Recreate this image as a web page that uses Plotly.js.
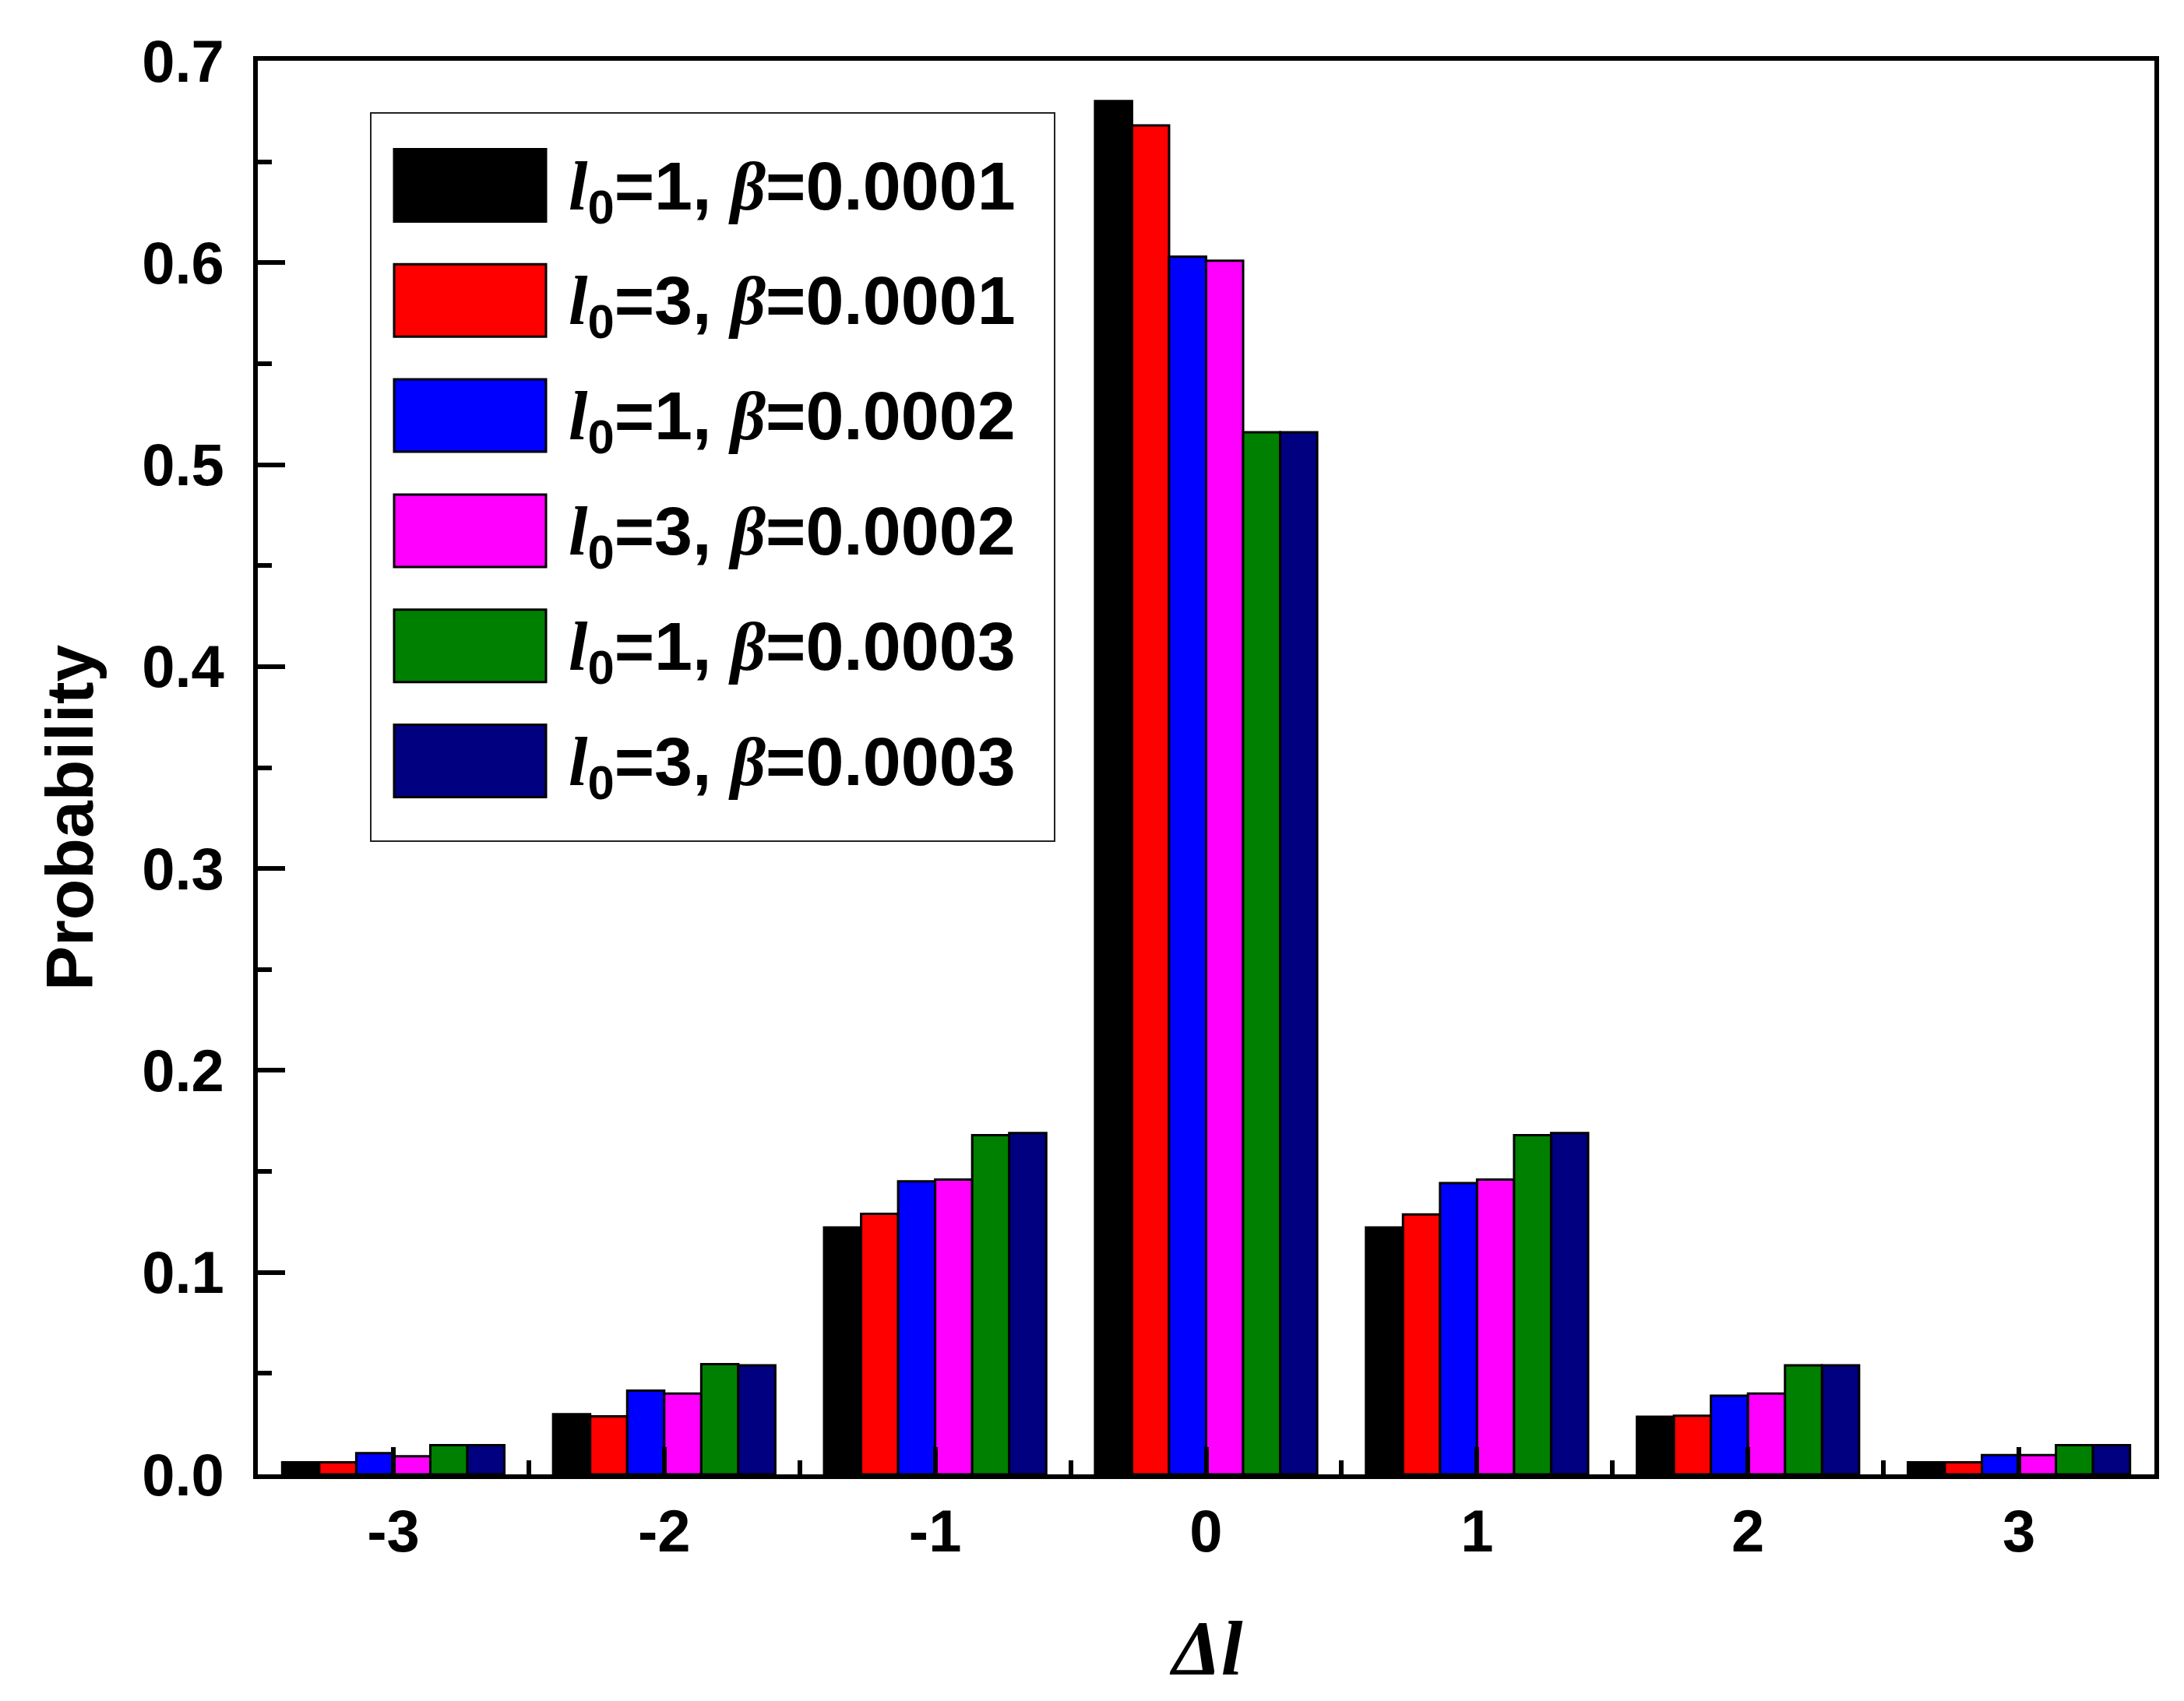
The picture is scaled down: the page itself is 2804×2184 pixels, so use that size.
<!DOCTYPE html>
<html>
<head>
<meta charset="utf-8">
<script src="https://cdn.plot.ly/plotly-3.0.1.min.js"></script>
<style>html,body{margin:0;padding:0;background:#fff;}#chart{width:2804px;height:2184px;}</style>
</head>
<body>
<div id="chart"></div>
<script>
// ---- data ----
const categories = [-3, -2, -1, 0, 1, 2, 3];
const tickLabels = ['-3', '-2', '-1', '0', '1', '2', '3'];
const minorTicks = [-2.5, -1.5, -0.5, 0.5, 1.5, 2.5];
const l0Values = [1, 3, 1, 3, 1, 3];
const betaValues = ['0.0001', '0.0001', '0.0002', '0.0002', '0.0003', '0.0003'];
const seriesColors = ['#000000', '#FF0000', '#0000FF', '#FF00FF', '#008000', '#000080'];

const s_l1_b1 = [0.006, 0.0298, 0.1223, 0.680, 0.1223, 0.0285, 0.006];
const s_l3_b1 = [0.006, 0.0287, 0.129, 0.668, 0.1287, 0.029, 0.006];
const s_l1_b2 = [0.0105, 0.0415, 0.1451, 0.603, 0.1442, 0.039, 0.0095];
const s_l3_b2 = [0.009, 0.040, 0.146, 0.601, 0.146, 0.040, 0.0095];
const s_l1_b3 = [0.0145, 0.0546, 0.168, 0.516, 0.168, 0.054, 0.0145];
const s_l3_b3 = [0.0145, 0.054, 0.169, 0.516, 0.169, 0.054, 0.0145];
const seriesValues = [s_l1_b1, s_l3_b1, s_l1_b2, s_l3_b2, s_l1_b3, s_l3_b3];

// ---- geometry (pixels) ----
const W = 2804, H = 2184;
const M = {l: 331, r: 38, t: 78, b: 291};
const PW = W - M.l - M.r, PH = H - M.t - M.b;
const px = x => (x - M.l) / PW;
const py = y => (H - M.b - y) / PH;

const sans = 'Arial, Liberation Sans, sans-serif';
const serif = 'Liberation Serif';

function label(i) {
  return '<span style="font-family:' + serif + '"><i>l</i></span><sub>0</sub>=' + l0Values[i] +
         ', <span style="font-family:' + serif + '"><i>β</i></span>=' + betaValues[i];
}

const traces = seriesValues.map((vals, i) => ({
  type: 'bar',
  x: categories,
  y: vals,
  name: label(i),
  marker: {color: seriesColors[i], line: {color: '#000', width: 3}},
  hoverinfo: 'x+y'
}));

// custom legend
const shapes = [];
const annotations = [];
shapes.push({type: 'rect', xref: 'paper', yref: 'paper',
  x0: px(476), x1: px(1354), y0: py(1080), y1: py(145),
  line: {color: '#222', width: 2}, fillcolor: 'rgba(0,0,0,0)'});
const rowStart = 238, rowStep = 147.8, swH = 93;
seriesColors.forEach((c, i) => {
  const cy = rowStart + i * rowStep;
  shapes.push({type: 'rect', xref: 'paper', yref: 'paper',
    x0: px(506), x1: px(701), y0: py(cy + swH / 2), y1: py(cy - swH / 2),
    fillcolor: c, line: {color: '#000', width: 3}});
  annotations.push({xref: 'paper', yref: 'paper', x: px(728), y: py(cy + 6),
    xanchor: 'left', yanchor: 'middle', showarrow: false, text: label(i),
    font: {family: sans, size: 88, color: '#000', weight: 'bold'}});
});
annotations.push({xref: 'paper', yref: 'paper', x: px(89), y: py(1050), textangle: -90,
  xanchor: 'center', yanchor: 'middle', showarrow: false, text: 'Probability',
  font: {family: sans, size: 86, color: '#000', weight: 'bold'}});
annotations.push({xref: 'paper', yref: 'paper', x: 0.5, y: py(2116),
  xanchor: 'center', yanchor: 'middle', showarrow: false, text: '<i>Δl</i>',
  font: {family: serif, size: 100, color: '#000', weight: 'bold'}});

const layout = {
  width: W, height: H,
  margin: M,
  paper_bgcolor: '#fff', plot_bgcolor: '#fff',
  showlegend: false,
  barmode: 'group', bargap: 0.18, bargroupgap: 0,
  font: {family: sans, color: '#000'},
  xaxis: {
    range: [-3.5, 3.5], tickmode: 'array', tickvals: categories, ticktext: tickLabels,
    ticks: 'inside', ticklen: 35, tickwidth: 6, tickcolor: '#000',
    minor: {tickmode: 'array', tickvals: minorTicks, ticks: 'inside', ticklen: 18, tickwidth: 6, tickcolor: '#000'},
    showline: true, linewidth: 6, linecolor: '#000', mirror: true,
    showgrid: false, zeroline: false,
    tickfont: {family: sans, size: 76, color: '#000', weight: 'bold'}, ticklabelstandoff: 2
  },
  yaxis: {
    range: [0, 0.7], dtick: 0.1, tick0: 0, tickformat: '.1f',
    ticks: 'inside', ticklen: 35, tickwidth: 6, tickcolor: '#000',
    minor: {dtick: 0.05, tick0: 0, ticks: 'inside', ticklen: 18, tickwidth: 6, tickcolor: '#000'},
    showline: true, linewidth: 6, linecolor: '#000', mirror: true,
    showgrid: false, zeroline: false,
    tickfont: {family: sans, size: 76, color: '#000', weight: 'bold'}, ticklabelstandoff: 22
  },
  shapes: shapes,
  annotations: annotations
};

Plotly.newPlot('chart', traces, layout, {displayModeBar: false, staticPlot: true});
</script>
</body>
</html>
